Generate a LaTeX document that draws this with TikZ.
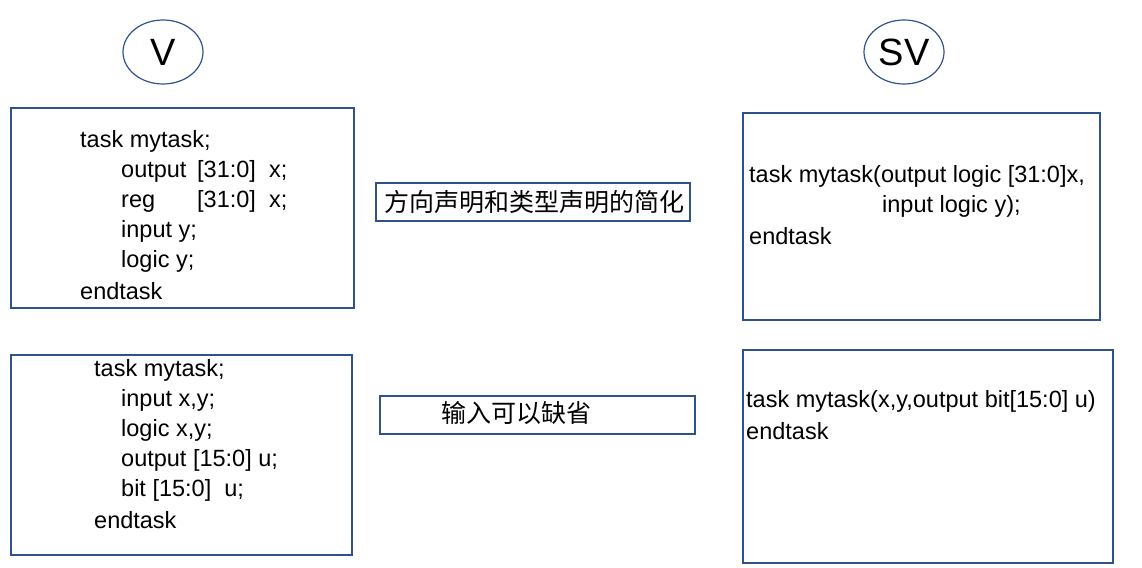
\documentclass[tikz,border=0pt]{standalone}
\usepackage{fontspec}
\setmainfont{Liberation Sans}
\newfontfamily\cjk{Noto Sans CJK SC}
\definecolor{bd}{RGB}{47,82,143}
\begin{document}
\begin{tikzpicture}[x=1pt,y=-1pt,
  box/.style={draw=bd,line width=1.2pt},
  t/.style={anchor=west,inner sep=0pt,font=\fontsize{23.5}{26}\selectfont},
  c/.style={anchor=west,inner sep=0pt,font=\cjk\fontsize{25}{28}\selectfont}]
\useasboundingbox (0,0) rectangle (1142,567);
\draw[box] (163,52) ellipse (40 and 32);
\node[font=\fontsize{38}{40}\selectfont] (v) at (163,52) {V};
\draw[box] (904,52) ellipse (40 and 32);
\node[font=\fontsize{38}{40}\selectfont] (sv) at (904,52) {SV};
\draw[box] (11,108) rectangle (354,308);
\draw[box] (11,355) rectangle (352,555);
\draw[box] (743,113) rectangle (1100,320);
\draw[box] (743,350) rectangle (1113,563);
\draw[box] (376,183) rectangle (690,221);
\draw[box] (380,396) rectangle (695,434);
\node[t] (a1) at (80,141) {task mytask;};
\node[t] (a2) at (121,171) {\makebox[76pt][l]{output}[31:0]\ \ x;};
\node[t] (a3) at (121,201) {\makebox[76pt][l]{reg}[31:0]\ \ x;};
\node[t] (a4) at (121,231) {input y;};
\node[t] (a5) at (121,261) {logic y;};
\node[t] (a6) at (80,291) {endtask};
\node[t] (b1) at (94,370) {task mytask;};
\node[t] (b2) at (121,400) {input x,y;};
\node[t] (b3) at (121,430) {logic x,y;};
\node[t] (b4) at (121,460) {output [15:0] u;};
\node[t] (b5) at (121,490) {bit [15:0]\ \ u;};
\node[t] (b6) at (94,520) {endtask};
\node[t] (c1) at (749,176) {task mytask(output logic [31:0]x,};
\node[t] (c2) at (882,206) {input logic y);};
\node[t] (c3) at (749,236) {endtask};
\node[t] (d1) at (746,401) {task mytask(x,y,output bit[15:0] u)};
\node[t] (d2) at (746,431) {endtask};
\node[c] (l1) at (384,202) {方向声明和类型声明的简化};
\node[c] (l2) at (441,413) {输入可以缺省};
\end{tikzpicture}
\end{document}
